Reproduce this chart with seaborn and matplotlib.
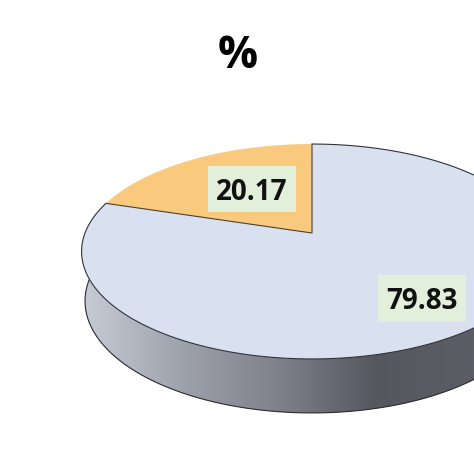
import numpy as np
import matplotlib
matplotlib.use("Agg")
import matplotlib.pyplot as plt
from matplotlib.patches import PathPatch, Rectangle
from matplotlib.path import Path
import seaborn as sns

title = "%"
labels = ["79.83", "20.17"]
values = [79.83, 20.17]
slice_colors = ["#d9e1f1", "#f9ca7e"]
side_colors = ["#c6cad4", "#9ea2ac", "#7e808a", "#55575f", "#5c5e66"]

sns.set_theme(style="white")
plt.rcParams["font.family"] = ["Open Sans", "DejaVu Sans"]

CX, CY, K, A, C = 312, 233, 227, -64.2, 0.172


def warp(xy):
    x, y = xy[:, 0], xy[:, 1]
    d = C * y + 1
    return np.column_stack([CX + K * x / d, (A * y + CY) / d])


def rim(t):
    return warp(np.column_stack([np.cos(t), np.sin(t)]))


def lower(pts):
    depth = 50 + 4 * (pts[:, 1] - 262) / 97
    return np.column_stack([CX + (pts[:, 0] - CX) * 0.985, pts[:, 1] + depth])


fig = plt.figure(figsize=(4.74, 4.74), dpi=100)
ax = fig.add_axes([0, 0, 1, 1])
wedges, _ = ax.pie(values, colors=slice_colors, startangle=90, counterclock=False,
                   radius=1, center=(0, 0))
ax.set_aspect("auto")
ax.set_xlim(0, 474)
ax.set_ylim(474, 0)
ax.axis("off")

# side wall
t = np.radians(np.linspace(172, 372, 300))
top_rim = rim(t)
low_rim = lower(top_rim)
wall = Path(np.vstack([top_rim, low_rim[::-1]]), closed=False)
cmap = sns.blend_palette(side_colors, as_cmap=True)
im = ax.imshow(np.linspace(0, 1, 256)[None, :], cmap=cmap, extent=(85, 474, 474, 0),
               aspect="auto", zorder=1)
wall_patch = PathPatch(wall, transform=ax.transData, facecolor="none", edgecolor="none")
ax.add_patch(wall_patch)
im.set_clip_path(wall_patch)
ax.plot(low_rim[:, 0], low_rim[:, 1], color="#2a2a2a", lw=0.8, zorder=2)
ax.plot([top_rim[0, 0], low_rim[0, 0]], [top_rim[0, 1], low_rim[0, 1]], color="#555555", lw=0.7, zorder=2)
ax.set_xlim(0, 474)
ax.set_ylim(474, 0)

# warped pie faces, angles come from the wedges that ax.pie computed
zs = [3, 4]
for w, col, z in zip(wedges, slice_colors, zs):
    th1, th2 = np.radians(w.theta1), np.radians(w.theta2)
    if th2 < th1:
        th2 += 2 * np.pi
    arc = rim(np.linspace(th1, th2, 300))
    apex = warp(np.array([[0.0, 0.0]]))
    poly = np.vstack([apex, arc])
    w.remove()
    ax.fill(poly[:, 0], poly[:, 1], color=col, lw=0, zorder=z)
    if z == 3:
        ax.plot(arc[:, 0], arc[:, 1], color="#30323a", lw=0.8, zorder=z)
    else:
        ax.plot([arc[0, 0], apex[0, 0], arc[-1, 0]], [arc[0, 1], apex[0, 1], arc[-1, 1]],
                color="#4a4030", lw=0.8, zorder=z + 1)

# data labels
boxes = [(378, 275, 88, 47), (208, 166, 88, 46)]
for lab, (bx, by, bw, bh) in zip(labels, boxes):
    ax.add_patch(Rectangle((bx, by), bw, bh, facecolor="#e2efda", edgecolor="none", zorder=6))
    ax.text(bx + bw / 2, by + bh / 2 - 0.5, lab, ha="center", va="center_baseline", fontsize=20,
            fontweight="bold", color="#111111", zorder=7)

ax.text(238, 56, title, ha="center", va="center", fontsize=32, fontweight="bold", color="black")

fig.savefig("out.png", dpi=100, facecolor="white")
